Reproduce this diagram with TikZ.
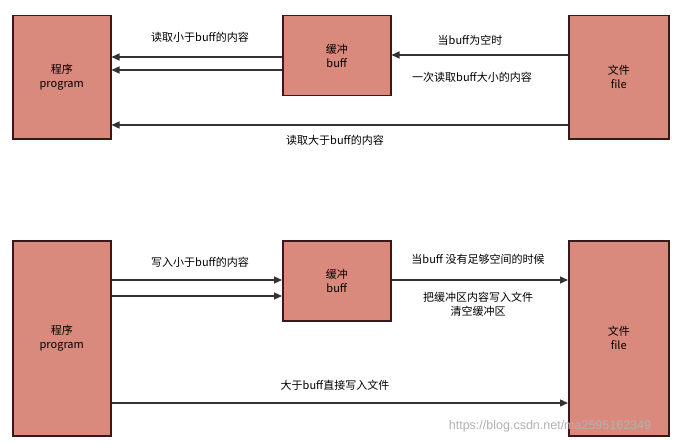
\documentclass[tikz,border=0pt]{standalone}
\usepackage{fontspec}
\setmainfont{Liberation Sans}
\newfontfamily\cjk{Noto Sans CJK SC}
\usetikzlibrary{arrows.meta}
\definecolor{boxfill}{HTML}{DA8A7C}
\definecolor{boxline}{HTML}{3A1818}
\definecolor{lin}{HTML}{333333}
\tikzset{
  blk/.style={draw=boxline,fill=boxfill,line width=1.5pt,align=center,font=\cjk\fontsize{11}{14}\selectfont,anchor=north west},
  arr/.style={draw=lin,line width=1.3pt,-{Triangle[length=8pt,width=7pt]}},
  lbl/.style={font=\cjk\fontsize{11}{14}\selectfont,text=black}
}
\begin{document}
\begin{tikzpicture}[x=1pt,y=-1pt]
\useasboundingbox[fill=white] (0,0) rectangle (686,444);
% top
\node[blk,minimum width=98pt,minimum height=123pt] (p1) at (12,15) {程序\\program};
\node[blk,minimum width=108pt,minimum height=80pt] (b1) at (282,15) {缓冲\\buff};
\node[blk,minimum width=100pt,minimum height=123pt] (f1) at (568,15) {文件\\file};
\draw[arr] (b1.west|-0,57) -- (p1.east|-0,57);
\draw[arr] (b1.west|-0,70) -- (p1.east|-0,70);
\node[lbl] (t1) at (200,37) {读取小于buff的内容};
\draw[arr] (f1.west|-0,55) -- (b1.east|-0,55);
\node[lbl] (t2) at (470,40) {当buff为空时};
\node[lbl] (t3) at (472,77) {一次读取buff大小的内容};
\draw[arr] (f1.west|-0,125) -- (p1.east|-0,125);
\node[lbl] (t4) at (335,140) {读取大于buff的内容};
% bottom
\node[blk,minimum width=98pt,minimum height=195pt] (p2) at (12,240) {程序\\program};
\node[blk,minimum width=108pt,minimum height=80pt] (b2) at (282,240) {缓冲\\buff};
\node[blk,minimum width=100pt,minimum height=195pt] (f2) at (568,240) {文件\\file};
\draw[arr] (p2.east|-0,280) -- (b2.west|-0,280);
\draw[arr] (p2.east|-0,296) -- (b2.west|-0,296);
\node[lbl] (t5) at (200,262) {写入小于buff的内容};
\draw[arr] (b2.east|-0,280) -- (f2.west|-0,280);
\node[lbl] (t6) at (478,259) {当buff 没有足够空间的时候};
\node[lbl,align=center] (t7) at (478,304) {把缓冲区内容写入文件\\清空缓冲区};
\draw[arr] (p2.east|-0,403) -- (f2.west|-0,403);
\node[lbl] (t8) at (335,385) {大于buff直接写入文件};
\node[font=\fontsize{12.5}{14}\selectfont,text=gray!60] (wm) at (550,426) {https://blog.csdn.net/ma2595162349};
\end{tikzpicture}
\end{document}
